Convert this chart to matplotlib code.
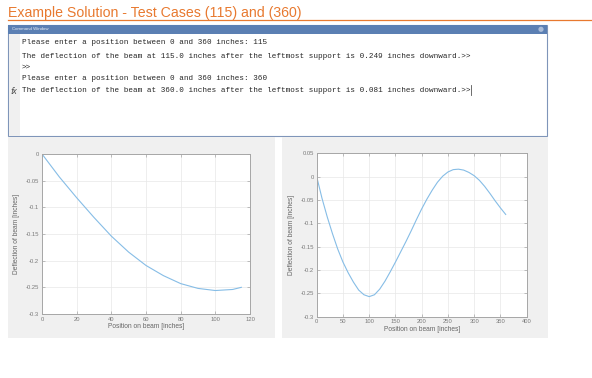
import matplotlib
matplotlib.use('Agg')
import matplotlib.pyplot as plt
from matplotlib.patches import Rectangle, Circle
from matplotlib.ticker import FormatStrFormatter

plt.rcParams['axes.unicode_minus'] = False
plt.rcParams['font.family'] = ['Liberation Sans', 'DejaVu Sans']

# donnees
x_115 = [0, 10, 20, 30, 40, 50, 60, 70, 80, 90, 100, 110, 115]
y_115 = [0, -0.043, -0.082, -0.119, -0.154, -0.184, -0.209, -0.228,
         -0.243, -0.252, -0.256, -0.254, -0.250]

x_360 = [0, 10, 20, 30, 40, 50, 60, 70, 80, 90, 100, 110, 120, 130, 140,
         150, 160, 170, 180, 190, 200, 210, 220, 230, 240, 250, 260, 270,
         280, 290, 300, 310, 320, 330, 340, 350, 360]
y_360 = [0, -0.046, -0.086, -0.122, -0.155, -0.183, -0.206, -0.226, -0.243,
         -0.253, -0.257, -0.253, -0.241, -0.224, -0.204, -0.183, -0.161,
         -0.139, -0.116, -0.092, -0.069, -0.048, -0.029, -0.012, 0.001,
         0.010, 0.015, 0.016, 0.014, 0.009, 0.002, -0.008, -0.021, -0.036,
         -0.052, -0.067, -0.081]

titre = 'Example Solution - Test Cases (115) and (360)'
lignes = [
    'Please enter a position between 0 and 360 inches: 115',
    'The deflection of the beam at 115.0 inches after the leftmost support is 0.249 inches downward.>>',
    '>>',
    'Please enter a position between 0 and 360 inches: 360',
    'The deflection of the beam at 360.0 inches after the leftmost support is 0.081 inches downward.>>',
]
xlabel = 'Position on beam [inches]'
ylabel = 'Deflection of beam [inches]'

W, H = 592, 378
fig = plt.figure(figsize=(W / 100, H / 100), dpi=100)
fig.patch.set_facecolor('white')

# axe de fond en pixels
bg = fig.add_axes([0, 0, 1, 1])
bg.set_xlim(0, W)
bg.set_ylim(H, 0)
bg.axis('off')

orange = '#e8792f'
bg.text(8, 17, titre, color=orange, fontsize=10.2,
        va='baseline', ha='left')
bg.plot([8, W], [19.5, 19.5], color=orange, lw=0.9)

# fenetre de commande
bg.add_patch(Rectangle((8, 25), 539, 111, facecolor='white',
                       edgecolor='#7f95b9', lw=0.8))
bg.add_patch(Rectangle((8, 25), 539, 8.5, facecolor='#5b7fb3',
                       edgecolor='none'))
bg.add_patch(Rectangle((9, 33.5), 11, 102, facecolor='#f0f0f0',
                       edgecolor='none'))
bg.text(12, 29.5, 'Command Window', color='#e8eef7', fontsize=3.2,
        va='center', ha='left')
bg.add_patch(Circle((541, 29.3), 2.6, facecolor='#a9bcd8', edgecolor='none'))
ys = [43, 56, 67, 79, 90]
for y, l in zip(ys, lignes):
    bg.text(22, y, l, family='Liberation Mono', fontsize=5.5,
            color='#262626', va='center', ha='left')
bg.text(10.5, 90, r'$f\!x$', fontsize=6, color='#555555', va='center',
        ha='left')
bg.plot([471, 471], [85, 95], color='#555555', lw=0.6)

# panneaux gris des figures
bg.add_patch(Rectangle((8, 137), 267, 201, facecolor='#f0f0f0',
                       edgecolor='none'))
bg.add_patch(Rectangle((282, 137), 266, 201, facecolor='#f0f0f0',
                       edgecolor='none'))

gris = '#a6a6a6'
bleu = '#86bde6'


def style(ax):
    ax.set_facecolor('white')
    for s in ax.spines.values():
        s.set_color(gris)
        s.set_linewidth(0.7)
    ax.tick_params(direction='in', length=2, width=0.5, colors=gris,
                   labelsize=4.2, labelcolor='#7a7a7a', pad=2,
                   top=True, right=True)
    ax.grid(True, color='#e8e8e8', lw=0.5)
    ax.set_axisbelow(True)
    ax.set_xlabel(xlabel, fontsize=4.8, color='#666666', labelpad=1)
    ax.set_ylabel(ylabel, fontsize=4.8, color='#666666', labelpad=4)
    ax.yaxis.set_major_formatter(FormatStrFormatter('%g'))


ax1 = fig.add_axes([42 / W, 1 - 314 / H, 208 / W, 160 / H])
ax1.plot(x_115, y_115, color=bleu, lw=0.8)
ax1.set_xlim(0, 120)
ax1.set_ylim(-0.3, 0)
ax1.set_xticks([0, 20, 40, 60, 80, 100, 120])
ax1.set_yticks([0, -0.05, -0.1, -0.15, -0.2, -0.25, -0.3])
style(ax1)

ax2 = fig.add_axes([316.7 / W, 1 - 316.7 / H, 210 / W, 163.4 / H])
ax2.plot(x_360, y_360, color=bleu, lw=0.8)
ax2.set_xlim(0, 400)
ax2.set_ylim(-0.3, 0.05)
ax2.set_xticks([0, 50, 100, 150, 200, 250, 300, 350, 400])
ax2.set_yticks([0.05, 0, -0.05, -0.1, -0.15, -0.2, -0.25, -0.3])
style(ax2)

plt.savefig('out.png', dpi=100)
